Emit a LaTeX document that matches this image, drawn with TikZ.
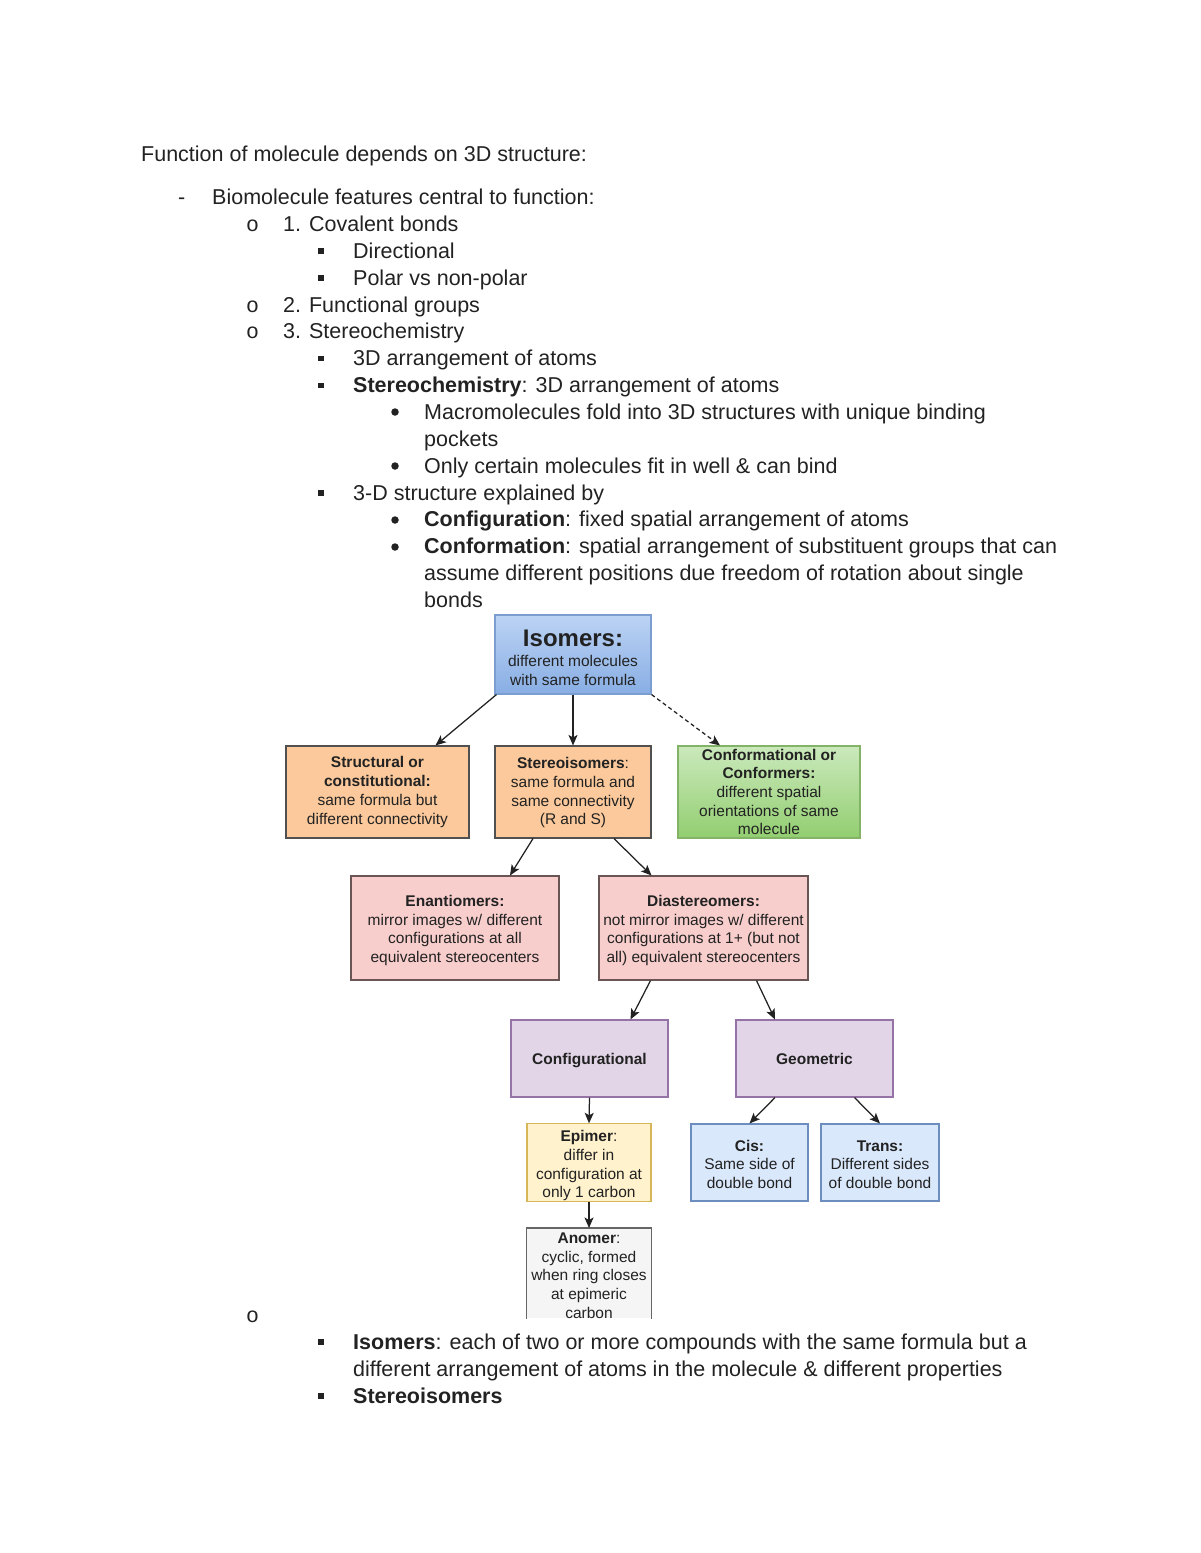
\documentclass[tikz,border=0pt]{standalone}
\usepackage{fontspec}
\setmainfont{Liberation Sans}
\newfontfamily\monofnt{Liberation Mono}
\usetikzlibrary{arrows.meta,shadings}
\definecolor{txt}{HTML}{222222}
\definecolor{isotop}{HTML}{BCD3F4}
\definecolor{isobot}{HTML}{88AEE4}
\definecolor{isobrd}{HTML}{7C9DD0}
\definecolor{orfill}{HTML}{FBC99B}
\definecolor{dkbrd}{HTML}{505050}
\definecolor{grtop}{HTML}{CBE9BC}
\definecolor{grbot}{HTML}{92CE70}
\definecolor{grbrd}{HTML}{82B366}
\definecolor{pkfill}{HTML}{F8CECC}
\definecolor{pkbrd}{HTML}{6A5555}
\definecolor{pufill}{HTML}{E1D5E7}
\definecolor{pubrd}{HTML}{9673A6}
\definecolor{yefill}{HTML}{FFF2CC}
\definecolor{yebrd}{HTML}{D6B656}
\definecolor{blfill}{HTML}{DAE8FC}
\definecolor{blbrd}{HTML}{6C8EBF}
\definecolor{gyfill}{HTML}{F5F5F5}
\definecolor{gybrd}{HTML}{666666}
\newcommand{\upstrut}[1]{\rule{0pt}{#1pt}}
\tikzset{
  body/.style={anchor=base west, inner sep=0pt, text=txt, font=\fontsize{21.5}{26.9}\selectfont},
  mono/.style={anchor=base west, inner sep=0pt, text=txt, font=\monofnt\fontsize{21.5}{26.9}\selectfont},
  sqbul/.style={fill=txt, minimum size=5.5pt, inner sep=0pt},
  cibul/.style={circle, fill=txt, minimum size=7.5pt, inner sep=0pt},
  box/.style={rectangle, inner sep=0pt, line width=1.1pt, align=center, text=txt,
    font=\fontsize{15.5}{18.7}\selectfont},
  arr/.style={-{Stealth[length=10.5pt,width=9pt,inset=2.5pt]}, line width=1.25pt, draw=txt},
}
\begin{document}
\begin{tikzpicture}[x=1pt,y=-1pt]
\useasboundingbox (0,0) rectangle (1200,1553);
\fill[white] (0,0) rectangle (1200,1553);

% ---------- body text ----------
\node[body] (t1) at (141,161) {Function of molecule depends on 3D structure:};
\node[body] (d1) at (178,204) {-};
\node[body] (t2) at (212,204) {Biomolecule features central to function:};
\node[mono] (o1) at (246,231) {o};
\node[body] (t3) at (283,231) {1. Covalent bonds};
\node[sqbul] (s1) at (321,251) {};
\node[body] (t4) at (353,258) {Directional};
\node[sqbul] (s2) at (321,278) {};
\node[body] (t5) at (353,285) {Polar vs non-polar};
\node[mono] (o2) at (246,312) {o};
\node[body] (t6) at (283,312) {2. Functional groups};
\node[mono] (o3) at (246,338.6) {o};
\node[body] (t7) at (283,338.6) {3. Stereochemistry};
\node[sqbul] (s3) at (321,358.5) {};
\node[body] (t8) at (353,365.5) {3D arrangement of atoms};
\node[sqbul] (s4) at (321,385.4) {};
\node[body] (t9) at (353,392.4) {\textbf{Stereochemistry}: 3D arrangement of atoms};
\node[cibul] (c1) at (395,412) {};
\node[body] (t10) at (424,419.3) {Macromolecules fold into 3D structures with unique binding};
\node[body] (t11) at (424,446.2) {pockets};
\node[cibul] (c2) at (395,466) {};
\node[body] (t12) at (424,473.1) {Only certain molecules fit in well \& can bind};
\node[sqbul] (s5) at (321,493) {};
\node[body] (t13) at (353,500) {3-D structure explained by};
\node[cibul] (c3) at (395,520) {};
\node[body] (t14) at (424,526.9) {\textbf{Configuration}: fixed spatial arrangement of atoms};
\node[cibul] (c4) at (395,547) {};
\node[body] (t15) at (424,553.8) {\textbf{Conformation}: spatial arrangement of substituent groups that can};
\node[body] (t16) at (424,580.7) {assume different positions due freedom of rotation about single};
\node[body] (t17) at (424,607.6) {bonds};

\node[mono] (o4) at (246,1322) {o};
\node[sqbul] (s6) at (321,1342) {};
\node[body] (t18) at (353,1349) {\textbf{Isomers}: each of two or more compounds with the same formula but a};
\node[body] (t19) at (353,1376) {different arrangement of atoms in the molecule \& different properties};
\node[sqbul] (s7) at (321,1396) {};
\node[body] (t20) at (353,1403) {\textbf{Stereoisomers}};

% ---------- diagram ----------
\node[box, draw=isobrd, top color=isotop, bottom color=isobot, minimum width=156pt, minimum height=79pt]
  (iso) at (573,654.5) {\upstrut{23}{\fontsize{24}{24}\selectfont\bfseries Isomers:}\\[1.5pt]different molecules\\with same formula};
\node[box, draw=dkbrd, fill=orfill, minimum width=183pt, minimum height=92pt]
  (struct) at (377.5,792) {\textbf{Structural or}\\\textbf{constitutional:}\\same formula but\\different connectivity};
\node[box, draw=dkbrd, fill=orfill, minimum width=156pt, minimum height=92pt]
  (stereo) at (573,792) {\upstrut{13}\textbf{Stereoisomers}:\\same formula and\\same connectivity\\(R and S)};
\node[box, draw=grbrd, top color=grtop, bottom color=grbot, minimum width=182pt, minimum height=92pt]
  (conf) at (769,792) {\textbf{Conformational or}\\\textbf{Conformers:}\\different spatial\\orientations of same\\molecule};
\node[box, draw=pkbrd, fill=pkfill, minimum width=208pt, minimum height=104pt]
  (enan) at (455,928) {\upstrut{16}\textbf{Enantiomers:}\\mirror images w/ different\\configurations at all\\equivalent stereocenters};
\node[box, draw=pkbrd, fill=pkfill, minimum width=209pt, minimum height=104pt]
  (dia) at (703.5,928) {\upstrut{16}\textbf{Diastereomers:}\\not mirror images w/ different\\configurations at 1+ (but not\\all) equivalent stereocenters};
\node[box, draw=pubrd, fill=pufill, minimum width=157pt, minimum height=77pt, text depth=0pt]
  (confg) at (589.5,1058.5) {\textbf{Configurational}};
\node[box, draw=pubrd, fill=pufill, minimum width=157pt, minimum height=77pt, text depth=0pt]
  (geo) at (814.5,1058.5) {\textbf{Geometric}};
\node[box, draw=yebrd, fill=yefill, minimum width=124pt, minimum height=77pt]
  (epi) at (589,1162.5) {\upstrut{18}\textbf{Epimer}:\\differ in\\configuration at\\only 1 carbon};
\node[box, draw=blbrd, fill=blfill, minimum width=117pt, minimum height=77pt]
  (cis) at (749.5,1162.5) {\upstrut{15}\textbf{Cis:}\\Same side of\\double bond};
\node[box, draw=blbrd, fill=blfill, minimum width=118pt, minimum height=77pt]
  (trans) at (880,1162.5) {\upstrut{15}\textbf{Trans:}\\Different sides\\of double bond};
\node[box, fill=gyfill, minimum width=124pt, minimum height=89pt]
  (anom) at (589,1273.5) {\upstrut{15}\textbf{Anomer}:\\cyclic, formed\\when ring closes\\at epimeric\\carbon};
\draw[gybrd, line width=1.1pt] (anom.south west) -- (anom.north west) -- (anom.north east) -- (anom.south east);

% ---------- connectors ----------
\draw[arr] ([xshift=2pt]iso.south west) -- ([xshift=58pt]struct.north);
\draw[arr] (iso.south) -- (stereo.north);
\draw[arr, dash pattern=on 4pt off 3pt] (iso.south east) -- ([xshift=-49pt]conf.north);
\draw[arr] ([xshift=-40pt]stereo.south) -- ([xshift=55pt]enan.north);
\draw[arr] ([xshift=41pt]stereo.south) -- ([xshift=-52pt]dia.north);
\draw[arr] ([xshift=-53pt]dia.south) -- ([xshift=41pt]confg.north);
\draw[arr] ([xshift=53pt]dia.south) -- ([xshift=-39.5pt]geo.north);
\draw[arr] (confg.south) -- (epi.north);
\draw[arr] ([xshift=-39.5pt]geo.south) -- (cis.north);
\draw[arr] ([xshift=40pt]geo.south) -- (trans.north);
\draw[arr] (epi.south) -- (anom.north);
\end{tikzpicture}
\end{document}
